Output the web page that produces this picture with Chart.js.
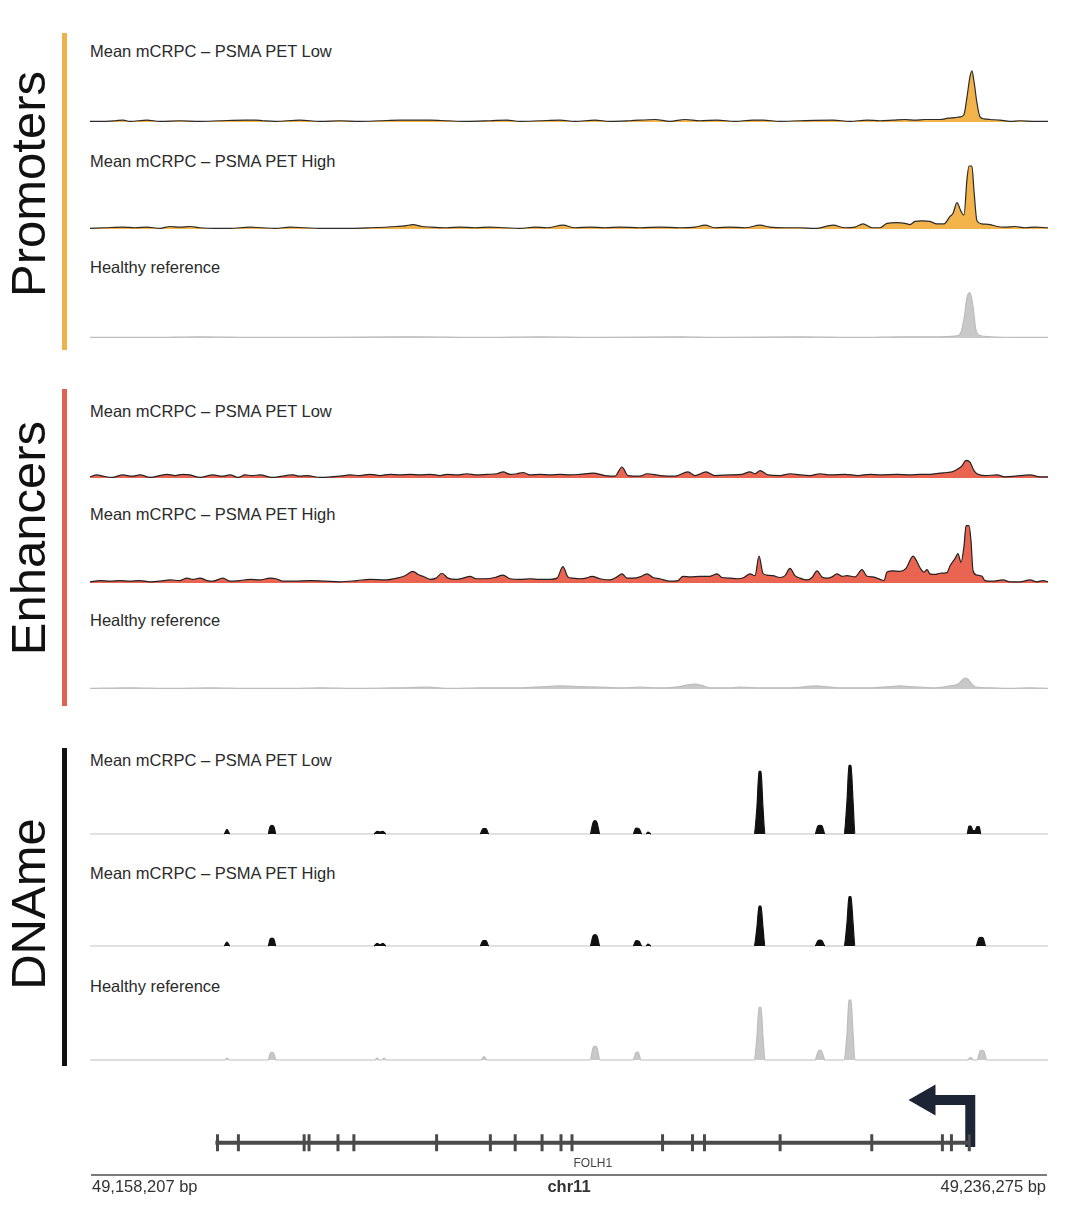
<!DOCTYPE html>
<html>
<head>
<meta charset="utf-8">
<script src="https://cdn.jsdelivr.net/npm/chart.js@4.4.1/dist/chart.umd.min.js"></script>
<style>
  body { margin: 0; background: #fff; }
  #page { position: relative; width: 1068px; height: 1224px; font-family: "Liberation Sans", Arial, sans-serif; }
  .bar { position: absolute; left: 62px; width: 5px; }
  .group { position: absolute; width: 320px; height: 60px; line-height: 60px; text-align: center;
           font-size: 49px; color: #111; transform: rotate(-90deg); white-space: nowrap; }
  .lbl { position: absolute; left: 90px; font-size: 16.5px; line-height: 20px; color: #2a2a2a; white-space: nowrap; }
  canvas { position: absolute; left: 90px; }
</style>
</head>
<body>
<div id="page"></div>
<script>
const START_BP = 49158207
const END_BP = 49236275
const SPAN_KB = (END_BP - START_BP) / 1000
const chromosome = 'chr11'
const geneName = 'FOLH1'

const groupNames = ['Promoters', 'Enhancers', 'DNAme']
const trackNames = ['Mean mCRPC – PSMA PET Low', 'Mean mCRPC – PSMA PET High', 'Healthy reference']

// coverage: [kb from window start, signal]
const promLow = [
    [0, 1], [0.81, 1], [2.04, 2], [2.69, 3], [3.26, 1], [4.64, 3], [5.70, 1], [7.33, 2], [8.96, 1], [10.59, 2],
    [12.63, 3], [13.45, 3], [14.10, 2], [15.08, 1], [17.11, 3], [18.74, 1], [20.37, 2], [22.00, 1], [23.63, 2], [25.26, 3],
    [26.48, 3], [27.71, 3], [29.09, 2], [30.56, 1], [32.60, 2], [33.98, 3], [35.04, 1], [36.67, 2], [38.30, 3], [39.52, 1],
    [41.15, 3], [42.37, 1], [44.00, 2], [46.04, 4], [47.26, 1], [48.49, 4], [49.71, 2], [51.10, 3], [52.56, 1], [54.03, 3],
    [54.84, 3], [56.23, 1], [57.86, 2], [60.55, 3], [61.93, 1], [63.32, 3], [64.38, 2], [65.44, 3], [66.41, 4], [67.23, 3],
    [68.04, 4], [69.27, 4], [69.92, 6], [70.49, 7], [70.90, 8], [71.22, 12], [71.47, 40], [71.71, 72], [71.87, 81], [72.04, 64],
    [72.28, 30], [72.53, 8], [72.85, 5], [73.34, 4], [74.16, 3], [74.97, 1], [75.79, 2], [77.01, 1], [78.07, 1]
]
const promHigh = [
    [0, 1], [1.22, 2], [2.69, 3], [3.67, 2], [4.64, 3], [5.70, 1], [6.52, 4], [7.33, 3], [8.15, 4], [8.96, 2],
    [10.19, 1], [11.41, 1], [13.04, 3], [14.02, 2], [15.08, 1], [16.30, 3], [17.52, 2], [18.74, 1], [20.78, 1], [22.82, 2],
    [25.02, 4], [25.67, 5], [26.32, 7], [27.05, 4], [27.87, 3], [29.09, 2], [30.15, 3], [31.37, 2], [32.60, 3], [33.82, 2],
    [35.04, 1], [36.26, 3], [37.24, 2], [38.54, 6], [39.52, 2], [40.75, 3], [41.97, 2], [43.19, 3], [44.82, 2], [46.45, 3],
    [48.08, 2], [49.30, 3], [50.12, 6], [50.93, 2], [52.15, 3], [53.38, 2], [54.60, 6], [55.41, 3], [56.64, 2], [57.86, 2],
    [59.08, 1], [60.55, 6], [61.53, 2], [62.34, 3], [62.99, 8], [63.73, 2], [64.38, 2], [64.95, 9], [65.76, 10], [66.41, 9],
    [66.82, 7], [67.23, 12], [67.80, 13], [68.45, 12], [69.02, 8], [69.59, 8], [70.08, 20], [70.33, 25], [70.65, 42], [70.98, 28],
    [71.22, 22], [71.47, 80], [71.63, 100], [71.87, 100], [72.04, 60], [72.28, 13], [72.69, 8], [73.34, 7], [73.91, 4], [74.57, 3],
    [75.38, 4], [76.19, 2], [77.01, 3], [78.07, 2]
]
const promHealthy = [
    [0, 1], [4.89, 1], [8.96, 2], [13.85, 1], [18.74, 1], [25.26, 2], [26.89, 2], [31.78, 1], [36.67, 2], [41.56, 1],
    [48.08, 2], [51.34, 1], [57.86, 2], [62.75, 1], [66.01, 2], [69.27, 2], [70.49, 3], [70.90, 6], [71.22, 30], [71.47, 65],
    [71.71, 72], [71.96, 50], [72.20, 12], [72.53, 4], [73.34, 2], [75.79, 1], [78.07, 1]
]
const enhLow = [
    [0, 2], [0.57, 5], [1.06, 3], [1.79, 1], [2.69, 5], [3.42, 3], [4.07, 5], [4.89, 1], [6.27, 6], [6.93, 4],
    [7.58, 6], [8.15, 5], [8.96, 1], [10.02, 5], [10.76, 3], [11.41, 5], [12.06, 1], [12.63, 5], [13.20, 4], [13.85, 5],
    [14.83, 1], [16.54, 5], [17.11, 3], [17.68, 4], [18.74, 1], [20.37, 3], [21.19, 5], [22.00, 4], [22.82, 6], [23.63, 4],
    [24.45, 6], [25.26, 5], [26.08, 6], [26.89, 5], [27.71, 6], [28.52, 4], [29.09, 6], [29.91, 5], [30.72, 7], [31.54, 5],
    [32.35, 6], [33.17, 7], [33.66, 10], [34.23, 6], [34.80, 7], [35.29, 9], [35.86, 5], [36.67, 6], [37.49, 5], [38.30, 6],
    [39.12, 5], [39.93, 6], [40.99, 8], [41.97, 4], [42.78, 3], [43.35, 18], [43.84, 4], [44.82, 3], [45.39, 7], [46.45, 4],
    [47.67, 3], [48.73, 10], [49.30, 4], [50.20, 10], [50.93, 4], [52.15, 5], [53.13, 6], [53.78, 10], [54.19, 7], [54.60, 12],
    [55.25, 5], [56.23, 4], [57.04, 7], [57.86, 5], [58.67, 4], [59.49, 7], [60.30, 5], [61.53, 6], [62.58, 4], [63.56, 6],
    [64.38, 5], [65.76, 6], [66.82, 5], [67.64, 6], [68.45, 6], [69.27, 8], [69.84, 9], [70.24, 10], [70.65, 14], [71.06, 20],
    [71.39, 29], [71.71, 26], [72.04, 12], [72.28, 7], [72.93, 4], [73.91, 5], [74.57, 2], [75.38, 3], [76.60, 5], [77.42, 2],
    [78.07, 2]
]
const enhHigh = [
    [0, 2], [0.81, 4], [1.63, 3], [2.44, 4], [3.26, 3], [4.07, 4], [4.89, 2], [5.70, 3], [6.52, 5], [7.33, 4],
    [7.90, 8], [8.39, 6], [8.96, 8], [9.53, 4], [10.02, 3], [10.84, 8], [11.41, 3], [12.22, 4], [13.04, 6], [13.85, 5],
    [14.67, 8], [15.16, 7], [15.73, 3], [16.71, 3], [17.93, 4], [19.15, 3], [20.37, 2], [21.76, 4], [22.82, 6], [24.04, 5],
    [25.02, 8], [25.67, 12], [26.32, 19], [26.73, 14], [27.14, 11], [27.71, 6], [28.20, 8], [28.68, 16], [29.17, 8], [29.91, 6],
    [30.40, 8], [30.97, 11], [31.46, 7], [32.19, 7], [33.00, 9], [33.66, 13], [34.23, 7], [35.04, 6], [35.86, 7], [36.67, 6],
    [37.49, 6], [38.06, 8], [38.54, 27], [38.95, 10], [39.36, 8], [39.93, 7], [40.42, 8], [40.91, 11], [41.56, 7], [42.37, 5],
    [42.95, 10], [43.35, 15], [43.76, 8], [44.25, 8], [44.82, 10], [45.39, 15], [45.88, 9], [46.45, 7], [47.26, 3], [47.92, 4],
    [48.32, 11], [48.89, 10], [49.71, 11], [50.52, 11], [51.10, 15], [51.50, 9], [52.15, 8], [52.72, 7], [53.29, 9], [53.78, 15],
    [54.19, 12], [54.52, 44], [54.84, 16], [55.17, 13], [55.66, 12], [56.23, 9], [56.64, 12], [57.04, 24], [57.45, 12], [57.86, 8],
    [58.43, 5], [58.84, 9], [59.24, 20], [59.65, 10], [60.06, 8], [60.47, 10], [60.87, 15], [61.28, 11], [61.69, 12], [62.34, 10],
    [62.91, 22], [63.32, 11], [63.81, 10], [64.38, 6], [64.70, 4], [64.95, 18], [65.44, 20], [66.01, 19], [66.50, 24], [67.07, 44],
    [67.39, 35], [67.64, 25], [67.96, 18], [68.21, 22], [68.45, 15], [68.86, 14], [69.27, 16], [69.84, 17], [70.08, 28], [70.49, 40],
    [70.73, 48], [70.98, 34], [71.22, 60], [71.39, 94], [71.63, 94], [71.79, 70], [71.96, 20], [72.28, 13], [72.69, 11], [72.93, 4],
    [73.51, 3], [74.40, 5], [74.97, 2], [75.79, 2], [76.60, 5], [77.17, 2], [77.66, 4], [78.07, 2]
]
const enhHealthy = [
    [0, 1], [3.26, 2], [6.52, 1], [9.78, 2], [13.04, 1], [16.30, 1], [18.74, 2], [22.00, 1], [25.26, 2], [27.46, 3],
    [29.34, 1], [31.78, 2], [35.04, 2], [37.08, 4], [38.30, 5], [39.93, 4], [41.56, 3], [43.19, 2], [44.82, 3], [46.45, 2],
    [48.08, 4], [48.73, 7], [49.30, 8], [49.87, 6], [50.52, 2], [52.15, 2], [52.97, 3], [54.60, 2], [57.04, 2], [59.24, 5],
    [59.90, 4], [61.12, 2], [63.56, 2], [65.19, 4], [66.01, 5], [66.82, 4], [67.64, 3], [68.86, 2], [70.08, 5], [70.73, 8],
    [71.06, 14], [71.30, 18], [71.55, 16], [71.87, 8], [72.20, 3], [73.34, 2], [74.97, 1], [76.60, 2], [78.07, 1]
]
const methLow = [
    [0, 0], [10.92, 0], [11.16, 7], [11.41, 0], [14.51, 0], [14.67, 11], [14.83, 13], [14.99, 11], [15.16, 0], [23.14, 0],
    [23.39, 4], [23.63, 3], [23.88, 4], [24.12, 0], [31.78, 0], [32.03, 8], [32.27, 8], [32.51, 0], [40.75, 0], [40.99, 17],
    [41.15, 20], [41.32, 17], [41.56, 0], [44.25, 0], [44.49, 9], [44.74, 8], [44.98, 0], [45.31, 0], [45.47, 3], [45.72, 0],
    [54.11, 0], [54.35, 40], [54.52, 94], [54.68, 94], [54.84, 40], [55.01, 0], [59.08, 0], [59.32, 12], [59.49, 13], [59.65, 12],
    [59.90, 0], [61.44, 0], [61.69, 50], [61.85, 103], [62.01, 103], [62.18, 50], [62.34, 0], [71.47, 0], [71.63, 12], [71.79, 12],
    [71.96, 5], [72.12, 5], [72.28, 11], [72.45, 11], [72.61, 0], [78.07, 0]
]
const methHigh = [
    [0, 0], [10.92, 0], [11.16, 6], [11.41, 0], [14.51, 0], [14.67, 10], [14.83, 12], [14.99, 10], [15.16, 0], [23.14, 0],
    [23.39, 4], [23.63, 2], [23.88, 4], [24.12, 0], [31.78, 0], [32.03, 8], [32.27, 8], [32.51, 0], [40.75, 0], [40.99, 15],
    [41.15, 17], [41.32, 15], [41.56, 0], [44.25, 0], [44.49, 8], [44.74, 7], [44.98, 0], [45.31, 0], [45.47, 3], [45.72, 0],
    [54.11, 0], [54.35, 28], [54.52, 60], [54.68, 60], [54.84, 28], [55.01, 0], [59.08, 0], [59.32, 8], [59.49, 9], [59.65, 8],
    [59.90, 0], [61.44, 0], [61.69, 35], [61.85, 74], [62.01, 74], [62.18, 35], [62.34, 0], [72.20, 0], [72.45, 12], [72.61, 13],
    [72.77, 12], [73.01, 0], [78.07, 0]
]
const methHealthy = [
    [0, 0], [11.00, 0], [11.16, 3], [11.33, 0], [14.51, 0], [14.67, 9], [14.83, 12], [14.99, 9], [15.16, 0], [23.23, 0],
    [23.39, 3], [23.55, 0], [23.80, 0], [23.96, 3], [24.12, 0], [31.86, 0], [32.11, 5], [32.35, 0], [40.75, 0], [40.99, 18],
    [41.15, 21], [41.32, 18], [41.56, 0], [44.25, 0], [44.49, 11], [44.66, 12], [44.90, 0], [54.11, 0], [54.35, 35], [54.52, 79],
    [54.68, 79], [54.84, 35], [55.01, 0], [59.08, 0], [59.32, 12], [59.49, 15], [59.65, 12], [59.90, 0], [61.44, 0], [61.69, 40],
    [61.85, 90], [62.01, 90], [62.18, 40], [62.34, 0], [71.47, 0], [71.79, 4], [71.96, 0], [72.28, 0], [72.53, 13], [72.69, 15],
    [72.85, 13], [73.10, 0], [78.07, 0]
]

// gene model (kb from window start)
const exonPos = [10.27, 11.98, 17.36, 17.76, 20.13, 21.43, 28.20, 32.60, 34.63, 36.83,
    38.38, 39.28, 46.69, 49.14, 50.12, 56.31, 63.81, 69.59, 70.33, 71.79]
const geneStart = 10.10
const geneTss = 71.87
const arrowHead = 68.29

// page layout
const sections = [
    { bar: '#efb14a', top: 33, bottom: 350, labelY: 184, plotH: 63, yMax: 100, fill: '#f2b34b', line: '#2b2b2b',
      tracks: [[promLow, 41, 122], [promHigh, 151, 229], [promHealthy, 257, 338]] },
    { bar: '#de6357', top: 389, bottom: 706, labelY: 538, plotH: 61, yMax: 100, fill: '#ea6452', line: '#222',
      tracks: [[enhLow, 401, 478], [enhHigh, 504, 583], [enhHealthy, 610, 689]] },
    { bar: '#111', top: 748, bottom: 1066, labelY: 904, plotH: 70, yMax: 105, fill: '#111', line: '#111', flat: '#c4c4c4',
      tracks: [[methLow, 750, 834], [methHigh, 863, 946], [methHealthy, 976, 1060]] },
]
const healthyFill = '#c8c8c8'
const healthyLine = '#bdbdbd'

Chart.defaults.font.family = '"Liberation Sans", Arial, sans-serif'
Chart.defaults.animation = false

const page = document.getElementById('page')

function addEl(tag, cls, style, text) {
    const el = document.createElement(tag)
    if (cls) el.className = cls
    Object.assign(el.style, style)
    if (text) el.textContent = text
    page.appendChild(el)
    return el
}

function trackChart(data, base, s, fill, line, flat) {
    const canvas = addEl('canvas', null, { top: (base - s.plotH - 6) + 'px' })
    canvas.width = 958
    canvas.height = s.plotH + 8

    return new Chart(canvas, {
        type: 'line',
        data: {
            datasets: [{
                data: data.map(([kb, v]) => ({ x: kb, y: v })),
                fill: 'origin',
                backgroundColor: fill,
                borderColor: line,
                borderWidth: 1.2,
                pointRadius: 0,
                cubicInterpolationMode: 'monotone',
                clip: false,
                segment: flat ? {
                    borderColor: c => (c.p0.parsed.y === 0 && c.p1.parsed.y === 0) ? flat : undefined
                } : undefined,
            }]
        },
        options: {
            responsive: false,
            events: [],
            layout: { autoPadding: false, padding: { top: 6, bottom: 2, left: 0, right: 0 } },
            scales: {
                x: { type: 'linear', min: 0, max: SPAN_KB, display: false },
                y: { min: 0, max: s.yMax, display: false },
            },
            plugins: { legend: { display: false }, tooltip: { enabled: false } },
        }
    })
}

sections.forEach((s, gi) => {
    addEl('div', 'bar', { top: s.top + 'px', height: (s.bottom - s.top) + 'px', background: s.bar })
    addEl('div', 'group', { left: (28 - 160) + 'px', top: (s.labelY - 30) + 'px' }, groupNames[gi])

    s.tracks.forEach(([data, labelTop, base], ti) => {
        addEl('div', 'lbl', { top: labelTop + 'px' }, trackNames[ti])
        const healthy = ti === 2
        trackChart(data, base, s,
            healthy ? healthyFill : s.fill,
            healthy ? healthyLine : s.line,
            healthy ? null : s.flat)
    })
})

// gene track + coordinate axis
const geneLabel = {
    id: 'geneLabel',
    afterDatasetsDraw(chart) {
        const { ctx, scales: { x, y } } = chart
        ctx.save()
        ctx.font = '12px "Liberation Sans", Arial, sans-serif'
        ctx.fillStyle = '#444'
        ctx.textAlign = 'center'
        ctx.textBaseline = 'middle'
        ctx.fillText(geneName, x.getPixelForValue((geneStart + geneTss) / 2), y.getPixelForValue(-0.5))
        ctx.restore()
    }
}

const geneCanvas = addEl('canvas', null, { top: '1068px' })
geneCanvas.width = 958
geneCanvas.height = 131

new Chart(geneCanvas, {
    type: 'line',
    data: {
        datasets: [
            {
                data: [{ x: geneStart, y: 0 }, { x: geneTss, y: 0 }],
                borderColor: '#4a4a4a', borderWidth: 4, pointRadius: 0,
            },
            {
                data: exonPos.map(x => ({ x, y: 0 })),
                showLine: false,
                pointStyle: 'line', pointRotation: 90, pointRadius: 8.5,
                pointBorderColor: '#4a4a4a', pointBorderWidth: 3,
            },
            {
                data: [{ x: geneTss, y: -0.1 }, { x: geneTss, y: 1 }, { x: arrowHead, y: 1 }],
                borderColor: '#1b2535', borderWidth: 10, borderJoinStyle: 'miter', borderCapStyle: 'butt',
                pointRadius: 0,
            },
            {
                data: [{ x: arrowHead, y: 1 }],
                showLine: false,
                pointStyle: 'triangle', pointRotation: 270, pointRadius: 18,
                pointBackgroundColor: '#1b2535', pointBorderWidth: 0,
            },
        ]
    },
    options: {
        responsive: false,
        events: [],
        layout: { autoPadding: false, padding: 0 },
        scales: {
            x: {
                type: 'linear', min: 0, max: SPAN_KB,
                afterBuildTicks: scale => {
                    scale.ticks = [{ value: 0 }, { value: SPAN_KB / 2 }, { value: SPAN_KB }]
                },
                grid: { display: false, drawTicks: false },
                border: { color: '#7a7a7a', width: 2 },
                ticks: {
                    align: 'inner', maxRotation: 0, autoSkip: false, padding: 2, color: '#333',
                    font: c => ({ size: 16.5, weight: c.index === 1 ? 'bold' : 'normal' }),
                    callback: (v, i) => i === 1
                        ? chromosome
                        : (START_BP + Math.round(v * 1000)).toLocaleString('en-US') + ' bp',
                },
            },
            y: { min: -0.76, max: 1.75, display: false },
        },
        plugins: { legend: { display: false }, tooltip: { enabled: false } },
    },
    plugins: [geneLabel],
})
</script>
</body>
</html>
